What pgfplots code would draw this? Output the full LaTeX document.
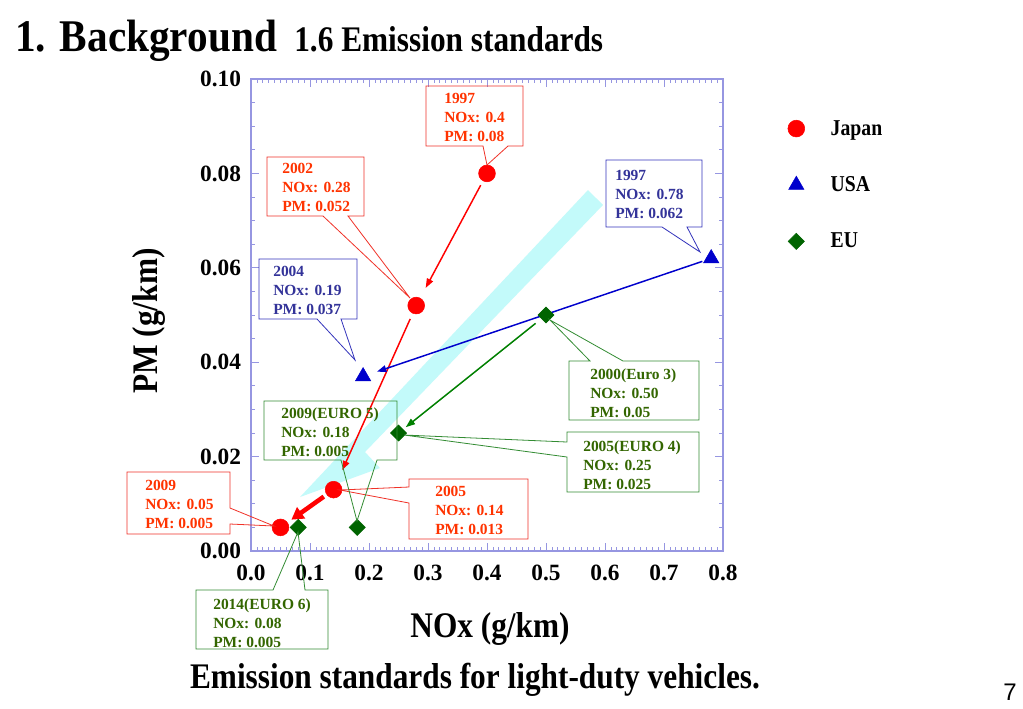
\documentclass[border=0pt]{standalone}
\usepackage{fontspec}
\setmainfont{Liberation Serif}
\newfontfamily\condfont{Liberation Serif}[FakeStretch=0.87]
\newfontfamily\titlefont{Liberation Serif}[FakeStretch=0.91]
\newfontfamily\arialfont{Liberation Sans}
\usepackage{pgfplots}
\pgfplotsset{compat=1.18}
\usetikzlibrary{arrows.meta}

\definecolor{axcol}{RGB}{150,150,225}
\definecolor{jpred}{RGB}{255,0,0}
\definecolor{jptext}{RGB}{255,51,0}
\definecolor{jpbox}{RGB}{240,50,40}
\definecolor{usblue}{RGB}{0,0,204}
\definecolor{ustext}{RGB}{51,51,153}
\definecolor{usbox}{RGB}{51,51,187}
\definecolor{eugreen}{RGB}{0,100,0}
\definecolor{euline}{RGB}{0,128,0}
\definecolor{eutext}{RGB}{51,102,0}
\definecolor{eubox}{RGB}{51,140,51}
\definecolor{band}{RGB}{195,250,250}

\newcommand{\cfont}{\fontsize{11.6}{14.3}\selectfont\bfseries}

\begin{document}
\begin{tikzpicture}
% page frame in pixel units (origin top left)
\begin{scope}[x=0.75pt,y=-0.75pt]
\path[use as bounding box, fill=white] (0,0) rectangle (1023,708);
\end{scope}

\begin{axis}[
  at={(188.25pt,-413.25pt)}, anchor=south west,
  scale only axis, width=354pt, height=354pt,
  xmin=0, xmax=0.8, ymin=0, ymax=0.1,
  xtick={0,0.1,0.2,0.3,0.4,0.5,0.6,0.7,0.8},
  ytick={0,0.02,0.04,0.06,0.08,0.1},
  minor x tick num=9, minor y tick num=3,
  tick align=inside,
  major tick length=6pt, minor tick length=3pt,
  axis line style={draw=axcol, line width=0.8pt},
  every tick/.style={draw=axcol, line width=0.6pt},
  ticklabel style={font=\fontsize{17.5}{17.5}\selectfont\bfseries},
  /pgf/number format/assume math mode=true,
  xticklabel style={/pgf/number format/fixed, /pgf/number format/fixed zerofill,
    /pgf/number format/precision=1, yshift=-7pt},
  yticklabel style={/pgf/number format/fixed, /pgf/number format/fixed zerofill,
    /pgf/number format/precision=2, xshift=-4pt},
  clip=false,
  legend style={at={(axis description cs:1.137,0.919)}, anchor=north west,
    draw=none, fill=none, inner sep=0pt, row sep=25.6pt,
    font=\condfont\bfseries\fontsize{17}{17}\selectfont,
    /tikz/every odd column/.append style={column sep=17.5pt}},
  legend cell align=left,
]
% light cyan band
\addplot[draw=none, fill=band, forget plot] coordinates {
  (0.0831,0.01144) (0.5712,0.07648) (0.5966,0.07331) (0.1932,0.02097) (0.2186,0.01758)};

% trajectories
\draw[jpred, line width=1.1pt, -{Triangle[length=7pt,width=5pt]}, shorten <=10pt, shorten >=15pt]
  (axis cs:0.4,0.08) -- (axis cs:0.28,0.052);
\draw[jpred, line width=1.1pt, -{Triangle[length=7pt,width=5pt]}, shorten <=11pt, shorten >=16pt]
  (axis cs:0.28,0.052) -- (axis cs:0.14,0.013);
\draw[jpred, line width=3.4pt, -{Triangle[length=9pt,width=10pt]}, shorten <=9pt, shorten >=10pt]
  (axis cs:0.14,0.013) -- (axis cs:0.05,0.005);
\draw[usblue, line width=1.1pt, -{Triangle[length=7pt,width=5pt]}, shorten <=7pt, shorten >=11pt]
  (axis cs:0.78,0.062) -- (axis cs:0.19,0.037);
\draw[euline, line width=1.1pt, -{Triangle[length=7pt,width=5pt]}, shorten <=10pt, shorten >=7pt]
  (axis cs:0.5,0.05) -- (axis cs:0.25,0.025);

\addplot[only marks, mark=*, mark size=6.3pt, color=jpred] coordinates {
  (0.4,0.08) (0.28,0.052) (0.14,0.013) (0.05,0.005)};
\addlegendentry{Japan}
\addplot[only marks, mark=triangle*, mark size=6.6pt, color=usblue] coordinates {
  (0.78,0.062) (0.19,0.037)};
\addlegendentry{USA}
\addplot[only marks, mark=square*, mark size=4.3pt, color=eugreen, mark options={rotate=45}] coordinates {
  (0.5,0.05) (0.25,0.025) (0.18,0.005) (0.08,0.005)};
\addlegendentry{EU}
\end{axis}

\begin{scope}[x=0.75pt,y=-0.75pt]
% headings
\node[anchor=base west, inner sep=0pt] at (15,51)
  {\titlefont\bfseries\fontsize{34}{34}\selectfont 1. Background};
\node[anchor=base west, inner sep=0pt] at (294,51)
  {\condfont\bfseries\fontsize{27}{27}\selectfont 1.6 Emission standards};
% axis titles
\node[anchor=base, inner sep=0pt] at (490,637)
  {\condfont\bfseries\fontsize{27}{27}\selectfont NOx (g/km)};
\node[anchor=base, rotate=90, inner sep=0pt] at (157,321)
  {\condfont\bfseries\fontsize{27}{27}\selectfont PM (g/km)};
% caption and page number
\node[anchor=base, inner sep=0pt] at (475,688)
  {\condfont\bfseries\fontsize{27}{27}\selectfont Emission standards for light-duty vehicles.};
\node[anchor=base east, inner sep=0pt] at (1017,700)
  {\arialfont\fontsize{18}{18}\selectfont 7};

% callouts: Japan
\draw[jpbox, line width=0.6pt] (426,86) -- (523,86) -- (523,146) -- (508,146) -- (487,165) -- (483,146) -- (426,146) -- cycle;
\node[jptext, anchor=north west, inner sep=0pt, align=left, font=\cfont] at (444,93) {1997\\NOx: 0.4\\PM: 0.08};
\draw[jpbox, line width=0.6pt] (267,157) -- (364,157) -- (364,216) -- (348,216) -- (410,298) -- (323,216) -- (267,216) -- cycle;
\node[jptext, anchor=north west, inner sep=0pt, align=left, font=\cfont] at (282,163) {2002\\NOx: 0.28\\PM: 0.052};
\draw[jpbox, line width=0.6pt] (409,479) -- (528,479) -- (528,539) -- (409,539) -- (409,503) -- (340,490) -- (409,487) -- cycle;
\node[jptext, anchor=north west, inner sep=0pt, align=left, font=\cfont] at (435,486) {2005\\NOx: 0.14\\PM: 0.013};
\draw[jpbox, line width=0.6pt] (127,472) -- (230,472) -- (230,508) -- (274,526) -- (230,524) -- (230,534) -- (127,534) -- cycle;
\node[jptext, anchor=north west, inner sep=0pt, align=left, font=\cfont] at (145,480) {2009\\NOx: 0.05\\PM: 0.005};
% callouts: USA
\draw[usbox, line width=0.6pt] (606,160) -- (702,160) -- (702,227) -- (687,227) -- (700,252) -- (662,227) -- (606,227) -- cycle;
\node[ustext, anchor=north west, inner sep=0pt, align=left, font=\cfont] at (615,170) {1997\\NOx: 0.78\\PM: 0.062};
\draw[usbox, line width=0.6pt] (259,259) -- (357,259) -- (357,319) -- (341,319) -- (355,360) -- (317,319) -- (259,319) -- cycle;
\node[ustext, anchor=north west, inner sep=0pt, align=left, font=\cfont] at (273,266) {2004\\NOx: 0.19\\PM: 0.037};
% callouts: EU
\draw[eubox, line width=0.6pt] (569,361) -- (590,361) -- (550,320) -- (623,361) -- (699,361) -- (699,420) -- (569,420) -- cycle;
\node[eutext, anchor=north west, inner sep=0pt, align=left, font=\cfont] at (590,368) {2000(Euro 3)\\NOx: 0.50\\PM: 0.05};
\draw[eubox, line width=0.6pt] (567,432) -- (699,432) -- (699,492) -- (567,492) -- (567,457) -- (404,435) -- (567,442) -- cycle;
\node[eutext, anchor=north west, inner sep=0pt, align=left, font=\cfont] at (583,440) {2005(EURO 4)\\NOx: 0.25\\PM: 0.025};
\draw[eubox, line width=0.6pt] (264,401) -- (397,401) -- (397,460) -- (377,460) -- (357,521) -- (341,460) -- (264,460) -- cycle;
\node[eutext, anchor=north west, inner sep=0pt, align=left, font=\cfont] at (281,407) {2009(EURO 5)\\NOx: 0.18\\PM: 0.005};
\draw[eubox, line width=0.6pt] (196,590) -- (273,590) -- (298,532) -- (305,590) -- (328,590) -- (328,649) -- (196,649) -- cycle;
\node[eutext, anchor=north west, inner sep=0pt, align=left, font=\cfont] at (213,598) {2014(EURO 6)\\NOx: 0.08\\PM: 0.005};
\end{scope}
\end{tikzpicture}
\end{document}
